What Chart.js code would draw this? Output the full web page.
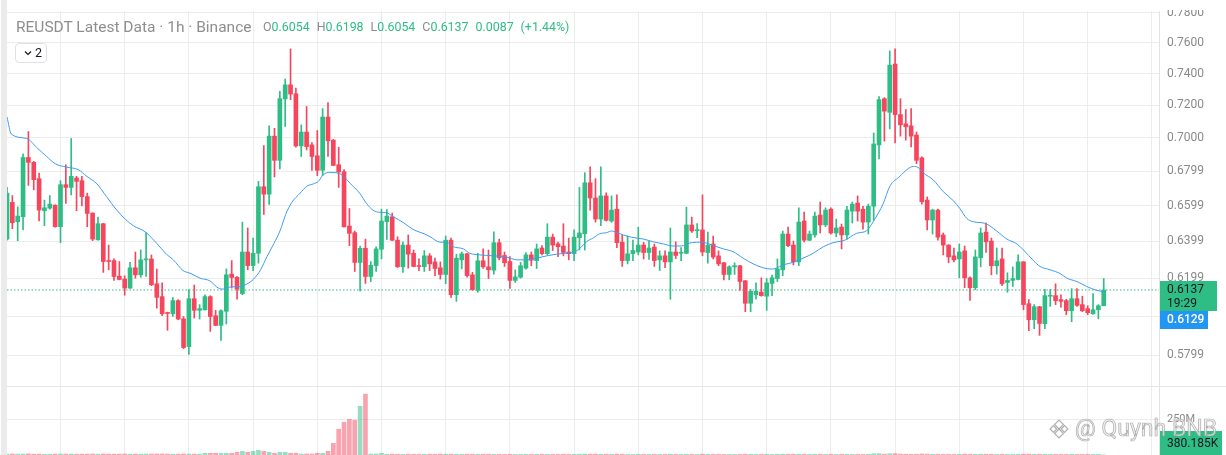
<!DOCTYPE html>
<html><head><meta charset="utf-8">
<script src="https://cdn.jsdelivr.net/npm/chart.js@4.4.1/dist/chart.umd.min.js"></script>
<style>
html,body{margin:0;padding:0;background:#fff;width:1226px;height:455px;overflow:hidden;font-family:Roboto,"Noto Sans",sans-serif;}
#wrap{position:relative;width:1226px;height:455px;}
canvas{position:absolute;left:0;}
#price{top:0;}
#vol{top:386px;}
#leftbar{position:absolute;left:1px;top:0;width:6px;height:455px;background:#ebebeb;}
#sep{position:absolute;left:7px;top:386px;width:1219px;height:1px;background:#e6e6e6;}
#topmask{position:absolute;left:1160px;top:0;width:66px;height:10px;background:#fff;}
#title{position:absolute;left:16px;top:18px;font-size:15.5px;line-height:18px;color:#8e8e8e;white-space:nowrap;}
#ohlc{position:absolute;left:263px;top:19px;font-size:12.4px;line-height:16px;white-space:nowrap;color:#2ebd85;}
#ohlc .k{color:#8e8e8e;}
#ohlc span.g{margin-right:7px;}
#btn{position:absolute;left:15px;top:43px;width:32px;height:20px;border:1px solid #e0e0e0;border-radius:4px;background:#fff;box-sizing:border-box;font-size:12.5px;line-height:18px;color:#131722;}
#btn svg{position:absolute;left:8px;top:6px;}
#btn span{position:absolute;left:19px;top:0;}
#wm{position:absolute;right:9px;top:415px;font-size:23px;line-height:27px;color:rgba(232,232,232,0.75);-webkit-text-stroke:0.7px rgba(150,150,150,0.75);white-space:nowrap;}
#wm svg{vertical-align:-3px;margin-right:6px;}
</style></head>
<body><div id="wrap">
<canvas id="price" width="1226" height="386"></canvas>
<canvas id="vol" width="1226" height="69"></canvas>
<div id="leftbar"></div>
<div id="sep"></div>
<div id="topmask"></div>
<div id="title">REUSDT Latest Data · 1h · Binance</div>
<div id="ohlc"><span class="g"><span class="k">O</span>0.6054</span><span class="g"><span class="k">H</span>0.6198</span><span class="g"><span class="k">L</span>0.6054</span><span class="g"><span class="k">C</span>0.6137</span><span class="g">0.0087</span><span>(+1.44%)</span></div>
<div id="btn"><svg width="8" height="6" viewBox="0 0 8 6"><path d="M1 1.5 L4 4.5 L7 1.5" fill="none" stroke="#131722" stroke-width="1.2"/></svg><span>2</span></div>
<div id="wm"><svg width="20" height="20" viewBox="0 0 18 18"><g fill="none" stroke="rgba(150,150,150,0.75)" stroke-width="1.1"><path d="M9 1 L13 5 L9 9 L5 5 Z"/><path d="M9 9 L13 13 L9 17 L5 13 Z"/><path d="M1 9 L4 6 L7 9 L4 12 Z"/><path d="M11 9 L14 6 L17 9 L14 12 Z"/></g></svg>@ Quynh BNB</div>
</div>
<script>
// ---- data ----
const opens = [
0.6413,0.6620,0.6510,0.6538,0.6882,0.6853,0.6757,0.6572,0.6587,0.6604,
0.6482,0.6722,0.6706,0.6761,0.6745,0.6653,0.6559,0.6409,0.6499,0.6294,
0.6295,0.6211,0.6195,0.6147,0.6256,0.6218,0.6299,0.6304,0.6170,0.6102,
0.6019,0.6012,0.6081,0.5986,0.5844,0.6091,0.6030,0.6033,0.6102,0.6002,
0.5952,0.6025,0.6222,0.6205,0.6118,0.6342,0.6268,0.6335,0.6710,0.6667,
0.7010,0.6865,0.7239,0.7328,0.7272,0.6951,0.7035,0.6957,0.6892,0.6806,
0.7127,0.6986,0.6839,0.6798,0.6486,0.6449,0.6285,0.6362,0.6209,0.6268,
0.6357,0.6510,0.6538,0.6407,0.6261,0.6380,0.6335,0.6267,0.6262,0.6321,
0.6288,0.6256,0.6220,0.6407,0.6112,0.6299,0.6332,0.6218,0.6135,0.6294,
0.6261,0.6243,0.6393,0.6323,0.6290,0.6188,0.6205,0.6254,0.6326,0.6295,
0.6364,0.6333,0.6424,0.6387,0.6375,0.6342,0.6333,0.6421,0.6443,0.6733,
0.6645,0.6525,0.6657,0.6514,0.6581,0.6396,0.6295,0.6333,0.6342,0.6380,
0.6339,0.6369,0.6299,0.6321,0.6288,0.6342,0.6335,0.6335,0.6492,0.6460,
0.6464,0.6339,0.6386,0.6321,0.6283,0.6220,0.6261,0.6267,0.6186,0.6067,
0.6112,0.6126,0.6104,0.6172,0.6198,0.6245,0.6441,0.6380,0.6288,0.6514,
0.6407,0.6436,0.6548,0.6492,0.6581,0.6447,0.6480,0.6436,0.6570,0.6616,
0.6581,0.6508,0.6598,0.6957,0.7241,0.7156,0.7461,0.7142,0.7085,0.7073,
0.7017,0.6880,0.6633,0.6520,0.6576,0.6436,0.6380,0.6321,0.6304,0.6348,
0.6202,0.6149,0.6310,0.6452,0.6402,0.6267,0.6304,0.6177,0.6188,0.6193,
0.6288,0.6065,0.5981,0.6049,0.5961,0.6104,0.6107,0.6086,0.6081,0.6028,
0.6091,0.6060,0.6039,0.6012,0.6033,0.6054];
const highs = [
0.6706,0.6659,0.6594,0.6904,0.7038,0.6859,0.6790,0.6633,0.6659,0.6606,
0.6745,0.6839,0.6996,0.6771,0.6771,0.6673,0.6561,0.6536,0.6501,0.6380,
0.6304,0.6290,0.6213,0.6285,0.6342,0.6353,0.6449,0.6326,0.6249,0.6175,
0.6021,0.6097,0.6086,0.5998,0.6139,0.6163,0.6060,0.6112,0.6107,0.6030,
0.6033,0.6250,0.6295,0.6209,0.6508,0.6475,0.6419,0.6741,0.6953,0.7073,
0.7058,0.7287,0.7365,0.7559,0.7307,0.7079,0.7192,0.6971,0.7044,0.7179,
0.7216,0.6990,0.6943,0.6810,0.6585,0.6458,0.6375,0.6413,0.6290,0.6371,
0.6581,0.6579,0.6559,0.6426,0.6398,0.6436,0.6353,0.6304,0.6350,0.6333,
0.6308,0.6288,0.6430,0.6419,0.6330,0.6342,0.6334,0.6232,0.6335,0.6359,
0.6353,0.6454,0.6413,0.6342,0.6317,0.6245,0.6285,0.6339,0.6342,0.6386,
0.6377,0.6499,0.6441,0.6396,0.6499,0.6419,0.6464,0.6706,0.6792,0.6827,
0.6757,0.6827,0.6675,0.6657,0.6663,0.6436,0.6430,0.6407,0.6479,0.6395,
0.6404,0.6386,0.6348,0.6348,0.6475,0.6398,0.6366,0.6593,0.6536,0.6499,
0.6663,0.6452,0.6430,0.6348,0.6285,0.6267,0.6283,0.6269,0.6188,0.6139,
0.6175,0.6202,0.6198,0.6216,0.6304,0.6458,0.6480,0.6402,0.6589,0.6564,
0.6458,0.6564,0.6622,0.6589,0.6589,0.6525,0.6497,0.6598,0.6622,0.6657,
0.6598,0.6610,0.7029,0.7254,0.7247,0.7546,0.7559,0.7241,0.7173,0.7179,
0.7035,0.6886,0.6651,0.6581,0.6581,0.6447,0.6382,0.6364,0.6386,0.6375,
0.6207,0.6353,0.6475,0.6503,0.6419,0.6364,0.6364,0.6229,0.6261,0.6326,
0.6290,0.6086,0.6060,0.6051,0.6140,0.6140,0.6170,0.6112,0.6088,0.6144,
0.6144,0.6104,0.6054,0.6118,0.6060,0.6198];
const lows = [
0.6407,0.6471,0.6404,0.6464,0.6718,0.6692,0.6514,0.6488,0.6581,0.6480,
0.6393,0.6614,0.6663,0.6572,0.6600,0.6482,0.6404,0.6407,0.6231,0.6245,
0.6188,0.6191,0.6109,0.6145,0.6200,0.6205,0.6209,0.6160,0.6042,0.6002,
0.5927,0.5998,0.5981,0.5834,0.5805,0.5990,0.5985,0.6031,0.5921,0.5950,
0.5875,0.5959,0.6147,0.6089,0.6112,0.6245,0.6241,0.6281,0.6551,0.6608,
0.6767,0.6814,0.7069,0.7235,0.6943,0.6888,0.6927,0.6806,0.6775,0.6775,
0.6888,0.6833,0.6706,0.6480,0.6377,0.6236,0.6132,0.6172,0.6182,0.6236,
0.6304,0.6411,0.6404,0.6258,0.6231,0.6254,0.6261,0.6241,0.6236,0.6241,
0.6214,0.6195,0.6170,0.6098,0.6077,0.6250,0.6205,0.6135,0.6125,0.6252,
0.6198,0.6222,0.6299,0.6263,0.6146,0.6177,0.6200,0.6249,0.6267,0.6252,
0.6326,0.6326,0.6350,0.6317,0.6321,0.6299,0.6295,0.6353,0.6353,0.6576,
0.6508,0.6488,0.6514,0.6507,0.6366,0.6263,0.6277,0.6295,0.6326,0.6304,
0.6301,0.6263,0.6241,0.6256,0.6088,0.6306,0.6295,0.6332,0.6450,0.6421,
0.6321,0.6281,0.6304,0.6267,0.6191,0.6191,0.6220,0.6135,0.6023,0.6023,
0.6088,0.6104,0.6030,0.6107,0.6182,0.6213,0.6371,0.6272,0.6267,0.6398,
0.6404,0.6424,0.6447,0.6482,0.6441,0.6426,0.6359,0.6413,0.6503,0.6514,
0.6469,0.6441,0.6520,0.6874,0.6980,0.7054,0.6969,0.7010,0.6986,0.6945,
0.6845,0.6610,0.6464,0.6441,0.6407,0.6326,0.6283,0.6288,0.6202,0.6149,
0.6082,0.6139,0.6261,0.6339,0.6218,0.6222,0.6160,0.6125,0.6156,0.6191,
0.6033,0.5925,0.5935,0.5901,0.5935,0.6051,0.6060,0.6046,0.6007,0.5971,
0.6051,0.6023,0.6007,0.6010,0.5986,0.6054];
const closes = [
0.6673,0.6505,0.6542,0.6882,0.6853,0.6751,0.6576,0.6589,0.6610,0.6482,
0.6722,0.6706,0.6771,0.6741,0.6653,0.6557,0.6413,0.6499,0.6290,0.6290,
0.6209,0.6193,0.6147,0.6256,0.6218,0.6299,0.6304,0.6165,0.6098,0.6012,
0.6014,0.6081,0.5985,0.5839,0.6091,0.6030,0.6039,0.6102,0.5998,0.5952,
0.6028,0.6218,0.6204,0.6142,0.6342,0.6268,0.6335,0.6710,0.6667,0.7010,
0.6865,0.7241,0.7328,0.7270,0.6951,0.7035,0.6947,0.6888,0.6806,0.7127,
0.6982,0.6835,0.6796,0.6482,0.6445,0.6285,0.6362,0.6209,0.6270,0.6359,
0.6514,0.6542,0.6407,0.6261,0.6380,0.6330,0.6263,0.6263,0.6321,0.6277,
0.6252,0.6220,0.6407,0.6112,0.6308,0.6332,0.6214,0.6139,0.6294,0.6261,
0.6245,0.6393,0.6310,0.6283,0.6188,0.6207,0.6267,0.6326,0.6297,0.6359,
0.6333,0.6424,0.6380,0.6371,0.6339,0.6333,0.6424,0.6447,0.6733,0.6645,
0.6525,0.6657,0.6518,0.6576,0.6393,0.6295,0.6332,0.6350,0.6380,0.6339,
0.6364,0.6295,0.6321,0.6288,0.6342,0.6323,0.6339,0.6492,0.6458,0.6464,
0.6342,0.6380,0.6314,0.6277,0.6220,0.6261,0.6267,0.6182,0.6067,0.6130,
0.6130,0.6107,0.6175,0.6202,0.6250,0.6441,0.6377,0.6288,0.6508,0.6407,
0.6441,0.6542,0.6492,0.6576,0.6447,0.6475,0.6436,0.6576,0.6610,0.6570,
0.6508,0.6598,0.6963,0.7235,0.7163,0.7454,0.7142,0.7079,0.7067,0.7010,
0.6865,0.6624,0.6520,0.6576,0.6424,0.6380,0.6315,0.6299,0.6342,0.6202,
0.6149,0.6315,0.6447,0.6398,0.6267,0.6294,0.6170,0.6188,0.6198,0.6288,
0.6060,0.5981,0.6049,0.5962,0.6107,0.6109,0.6081,0.6077,0.6028,0.6091,
0.6056,0.6028,0.6018,0.6033,0.6054,0.6137];
// volume in millions
const volumesM = [
6,7,6,7,8,6,6,5,5,6, 7,6,7,5,6,6,7,6,7,6, 6,6,7,6,6,6,7,6,7,7,
6,6,6,7,7,6,6,12,12,12, 12,12,12,19,26,19,26,33,26,19, 12,19,19,12,12,7,7,7,12,12,
26,82,181,230,251,244,343,428,7,7, 12,6,6,5,5,5,5,4,5,5, 5,6,6,6,5,5,5,5,5,5,
5,5,5,4,5,4,4,5,4,5, 5,5,4,4,5,4,5,6,7,6, 6,6,5,5,6,5,4,4,5,4,
4,4,4,4,6,4,4,5,4,4, 6,5,4,4,4,4,4,4,5,5, 4,4,5,4,5,6,5,5,6,5,
4,5,5,4,5,4,5,5,4,4, 4,5,9,10,6,9,10,6,5,5, 5,7,6,5,5,4,4,4,5,6,
5,5,6,5,5,4,5,4,4,5, 6,6,5,5,5,4,4,4,4,5, 4,4,4,4,4,0.380185];
// moving average: candle position / value
const maX = [0,0.8,3.7,5.5,7.4,9,11.1,13.3,14.9,16.8,18.6,20.5,22.1,23.6,25.8,28,29.8,31.1,32.9,34.2,36.1,37.9,39.5,40.4,41.7,43.6,44.8,46.1,47.4,48.6,49.9,51.1,52.1,53.2,54.8,56,57.3,58.2,59.1,60.4,61.9,62.9,64.1,65.9,67.2,68.4,69.7,70.9,72.2,74.1,75.9,78.1,79.1,80.9,82.2,83.4,85.3,86.5,88.4,90.9,93.4,95.3,97.1,99,100.9,102.7,104.3,105.9,107.1,108.3,109.6,110.8,112.1,113,114,115.2,116.8,119,120.8,122.7,124.5,126.1,127.3,128.9,130.5,132,133.9,135.7,137.6,139.5,141.3,142.9,143.8,145.1,146.9,148.8,150.7,152.6,154.4,156.6,158.8,160.7,161.9,163.8,165,166.9,168.2,169.4,170.3,171.3,173.1,175,176.9,178.1,179.4,180.6,182.8,185,186.9,188.8,190,191.9,193.1,195,196.9,198.1,200,201.8,203.7,205];
const maY = [0.7127,0.7023,0.6996,0.6943,0.6888,0.6845,0.6825,0.6810,0.6771,0.6727,0.6653,0.6576,0.6525,0.6488,0.6454,0.6389,0.6330,0.6299,0.6241,0.6227,0.6200,0.6186,0.6147,0.6142,0.6153,0.6156,0.6168,0.6195,0.6245,0.6317,0.6389,0.6464,0.6552,0.6618,0.6673,0.6712,0.6727,0.6741,0.6780,0.6794,0.6790,0.6771,0.6731,0.6673,0.6614,0.6576,0.6563,0.6561,0.6538,0.6505,0.6467,0.6441,0.6426,0.6396,0.6395,0.6371,0.6359,0.6335,0.6326,0.6321,0.6314,0.6299,0.6299,0.6308,0.6321,0.6330,0.6335,0.6341,0.6362,0.6398,0.6420,0.6443,0.6449,0.6458,0.6449,0.6436,0.6423,0.6413,0.6398,0.6386,0.6375,0.6375,0.6389,0.6396,0.6393,0.6377,0.6359,0.6344,0.6308,0.6277,0.6256,0.6249,0.6254,0.6272,0.6285,0.6308,0.6335,0.6371,0.6393,0.6407,0.6445,0.6460,0.6510,0.6614,0.6712,0.6771,0.6810,0.6829,0.6823,0.6790,0.6751,0.6682,0.6629,0.6585,0.6529,0.6510,0.6501,0.6458,0.6413,0.6386,0.6353,0.6294,0.6263,0.6245,0.6224,0.6200,0.6182,0.6156,0.6135,0.6129];
const priceTicks = [0.58,0.60,0.62,0.64,0.66,0.68,0.70,0.72,0.74,0.76,0.78];
const priceTickLabels = ['0.5799','0.5999','0.6199','0.6399','0.6599','0.6799','0.7000','0.7200','0.7400','0.7600','0.7800'];
const volTicks = [250e6];
const volTickLabels = ['250M'];
const timeGridIdx = [10,22,34,46,58,70,82,94,106,118,130,142,154,166,178,190,202,214];
const lastCloseText = '0.6137', countdownText = '19:29', maLastText = '0.6129', lastVolText = '380.185K';

// ---- styles ----
const UP = '#2ebd85', DOWN = '#f6465d';
const UP_V = 'rgba(46,189,133,0.5)', DOWN_V = 'rgba(246,70,93,0.5)';
const GRID = '#ececec', AXIS_TXT = '#8a8a8a', MA_COL = '#3d9cf2';
const XMIN = 0, XMAX = 215.33;
const PRICE_MIN = 0.56482, PRICE_MAX = 0.78110;
Chart.defaults.font.family = 'Roboto, "Noto Sans", sans-serif';
Chart.defaults.font.size = 12;

const idx = closes.map((_, i) => i);
const isUp = i => closes[i] >= opens[i];

function fixAxis(w) {
  return s => { s.width = w; s.paddingTop = 0; s.paddingBottom = 0; };
}
const xScale = () => ({
  type: 'linear', min: XMIN, max: XMAX, offset: false,
  ticks: { display: false }, border: { display: false },
  grid: { color: GRID, drawTicks: false, offset: false },
  afterBuildTicks: s => { s.ticks = timeGridIdx.map(v => ({ value: v })); }
});

const priceLabels = {
  id: 'priceLabels',
  afterDraw(chart) {
    const { ctx, scales: { y }, chartArea } = chart;
    const yc = y.getPixelForValue(closes[closes.length - 1]);
    const x0 = chartArea.right + 1;
    ctx.save();
    ctx.fillStyle = UP;
    ctx.fillRect(x0, yc - 9, 57, 30);
    ctx.fillStyle = '#131722';
    ctx.font = '12px Roboto';
    ctx.textBaseline = 'middle';
    ctx.textAlign = 'left';
    ctx.fillText(lastCloseText, x0 + 7, yc + 0.5);
    ctx.fillText(countdownText, x0 + 7, yc + 14);
    ctx.fillStyle = '#2196f3';
    ctx.fillRect(x0, yc + 21, 48, 18);
    ctx.fillStyle = '#ffffff';
    ctx.font = '500 12px Roboto';
    ctx.fillText(maLastText, x0 + 7, yc + 30.5);
    ctx.restore();
  }
};
const volLabel = {
  id: 'volLabel',
  afterDraw(chart) {
    const { ctx, chartArea } = chart;
    const x0 = chartArea.right + 1;
    const yc = chartArea.bottom - 12;
    ctx.save();
    ctx.fillStyle = UP;
    ctx.fillRect(x0, yc - 12, 62, 24);
    ctx.fillStyle = '#131722';
    ctx.font = '12px Roboto';
    ctx.textBaseline = 'middle';
    ctx.fillText(lastVolText, x0 + 7, yc + 0.5);
    ctx.restore();
  }
};

new Chart(document.getElementById('price'), {
  type: 'bar',
  data: {
    datasets: [
      { type: 'line', label: 'MA', order: 0, data: maX.map((x, k) => ({ x, y: maY[k] })),
        borderColor: MA_COL, borderWidth: 1, pointRadius: 0, cubicInterpolationMode: 'monotone', fill: false },
      { label: 'body', order: 1, grouped: false, barThickness: 4, minBarLength: 1,
        data: idx.map(i => ({ x: i, y: [Math.min(opens[i], closes[i]), Math.max(opens[i], closes[i])] })),
        backgroundColor: c => isUp(c.dataIndex) ? UP : DOWN, borderWidth: 0 },
      { label: 'wick', order: 2, grouped: false, barThickness: 1,
        data: idx.map(i => ({ x: i, y: [lows[i], highs[i]] })),
        backgroundColor: c => isUp(c.dataIndex) ? UP : DOWN, borderWidth: 0 },
      { type: 'line', label: 'last', order: 3,
        data: [{ x: XMIN, y: closes[closes.length - 1] }, { x: XMAX, y: closes[closes.length - 1] }],
        borderColor: UP, borderWidth: 1, borderDash: [1.5, 2], pointRadius: 0, fill: false }
    ]
  },
  options: {
    responsive: false, animation: false,
    layout: { padding: { left: 7, top: 11, right: 0, bottom: 0 } },
    plugins: { legend: { display: false }, tooltip: { enabled: false } },
    scales: {
      x: xScale(),
      y: {
        type: 'logarithmic', position: 'right', min: PRICE_MIN, max: PRICE_MAX, bounds: 'data',
        grid: { color: GRID, drawTicks: false },
        border: { display: true, color: '#e3e3e3' },
        ticks: { padding: 8, autoSkip: false, color: AXIS_TXT, font: { size: 12 },
          callback: v => { const k = priceTicks.findIndex(t => Math.abs(t - v) < 1e-9); return k >= 0 ? priceTickLabels[k] : ''; } },
        afterBuildTicks: s => { s.ticks = priceTicks.map(v => ({ value: v })); },
        afterFit: fixAxis(67)
      }
    }
  },
  plugins: [priceLabels]
});

new Chart(document.getElementById('vol'), {
  type: 'bar',
  data: {
    datasets: [{
      label: 'volume', barThickness: 4,
      data: idx.map(i => ({ x: i, y: volumesM[i] * 1e6 })),
      backgroundColor: c => isUp(c.dataIndex) ? UP_V : DOWN_V, borderWidth: 0
    }]
  },
  options: {
    responsive: false, animation: false,
    layout: { padding: { left: 7, top: 0, right: 0, bottom: 0 } },
    plugins: { legend: { display: false }, tooltip: { enabled: false } },
    scales: {
      x: xScale(),
      y: {
        type: 'linear', position: 'right', min: 0, max: 485e6, bounds: 'data',
        grid: { color: GRID, drawTicks: false },
        border: { display: true, color: '#e3e3e3' },
        ticks: { padding: 8, autoSkip: false, color: AXIS_TXT, font: { size: 11 },
          callback: v => { const k = volTicks.indexOf(v); return k >= 0 ? volTickLabels[k] : ''; } },
        afterBuildTicks: s => { s.ticks = volTicks.map(v => ({ value: v })); },
        afterFit: fixAxis(67)
      }
    }
  },
  plugins: [volLabel]
});
</script>
</body></html>
